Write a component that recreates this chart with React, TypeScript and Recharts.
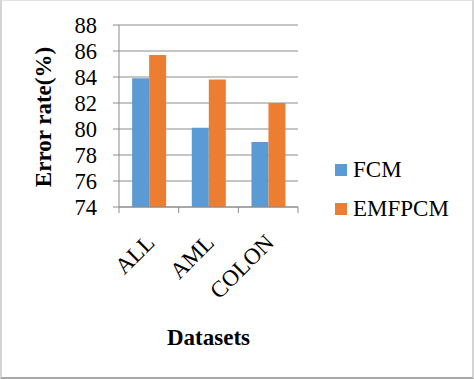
import React from 'react';
import { BarChart, Bar, XAxis, YAxis, CartesianGrid, Legend } from 'recharts';

const categories = ['ALL', 'AML', 'COLON'];
const fcmValues = [83.9, 80.1, 79.0];
const emfpcmValues = [85.7, 83.8, 82.0];
const yTicks = [74, 76, 78, 80, 82, 84, 86, 88];
const seriesNames = ['FCM', 'EMFPCM'];
const seriesColors = ['#5B9BD5', '#ED7D31'];

const data = categories.map((name, i) => ({ name, FCM: fcmValues[i], EMFPCM: emfpcmValues[i] }));

const FONT = '"Liberation Serif", "Times New Roman", serif';
const GRID = '#8c8c8c';

const XTick = (props: any) => {
  const { x, y, payload, index, visibleTicksCount } = props;
  const half = payload && payload.offset ? payload.offset : 0;
  const isLast = index === (visibleTicksCount ?? categories.length) - 1;
  return (
    <g>
      <line x1={x - half} x2={x - half} y1={y} y2={y + 6} stroke={GRID} />
      {isLast && <line x1={x + half} x2={x + half} y1={y} y2={y + 6} stroke={GRID} />}
      <g transform={`translate(${x + 7},${y + 37})`}>
        <text transform="rotate(-45)" textAnchor="end" fontFamily={FONT} fontSize={23} fill="#000">
          {payload.value}
        </text>
      </g>
    </g>
  );
};

const YTick = (props: any) => {
  const { x, y, payload } = props;
  return (
    <text x={x} y={y} dy="0.36em" textAnchor="end" fontFamily={FONT} fontSize={22.5} fill="#000">
      {payload.value}
    </text>
  );
};

const YTitle = (props: any) => {
  const vb = props.viewBox || { x: 0, y: 0, width: 0, height: 0 };
  const cx = vb.x + 51;
  const cy = vb.y + vb.height / 2 + 1;
  return (
    <text x={cx} y={cy} transform={`rotate(-90, ${cx}, ${cy})`} textAnchor="middle" fontFamily={FONT} fontWeight="bold" fontSize={23} fill="#000">
      Error rate(%)
    </text>
  );
};

const XTitle = (props: any) => {
  const vb = props.viewBox || { x: 0, y: 0, width: 0, height: 0 };
  return (
    <text x={vb.x + vb.width / 2} y={vb.y + 138} textAnchor="middle" fontFamily={FONT} fontWeight="bold" fontSize={23} fill="#000">
      Datasets
    </text>
  );
};

const LegendContent = () => (
  <div style={{ fontFamily: FONT, fontSize: 23, color: '#000' }}>
    {seriesNames.map((n, i) => (
      <div key={n} style={{ display: 'flex', alignItems: 'center', height: 39 }}>
        <span style={{ display: 'inline-block', width: 12, height: 12, background: seriesColors[i], marginRight: 6 }} />
        <span>{n}</span>
      </div>
    ))}
  </div>
);

export default function App() {
  return (
    <div style={{ position: 'absolute', left: 0, top: 0, width: 474, height: 379, background: '#fff' }}>
      <div style={{ position: 'absolute', left: 0, top: 0, width: 470, height: 376, borderLeft: '2px solid #d4d4d4', borderTop: '1px solid #e2e2e2', borderRight: '2px solid #d4d4d4', borderBottom: '2px solid #a8a8a8' }} />
      <BarChart width={474} height={379} data={data} margin={{ top: 25, right: 26, left: 0, bottom: 22 }} barCategoryGap="22%" barGap={0}>
        <CartesianGrid horizontal vertical={false} stroke={GRID} strokeWidth={1} />
        <XAxis dataKey="name" tickLine={false} tickSize={0} tickMargin={0} axisLine={{ stroke: GRID }} tick={<XTick />} height={150} interval={0} label={{ content: <XTitle /> }} />
        <YAxis domain={[74, 88]} ticks={yTicks} interval={0} width={119} tickSize={6} tickMargin={16} tickLine={{ stroke: GRID }} axisLine={{ stroke: GRID }} tick={<YTick />} label={{ content: <YTitle /> }} />
        <Legend layout="vertical" align="right" verticalAlign="middle" content={<LegendContent />} wrapperStyle={{ width: 150, left: 335, top: 150, right: 'auto' }} />
        <Bar dataKey="FCM" fill={seriesColors[0]} isAnimationActive={false} />
        <Bar dataKey="EMFPCM" fill={seriesColors[1]} isAnimationActive={false} />
      </BarChart>
    </div>
  );
}
